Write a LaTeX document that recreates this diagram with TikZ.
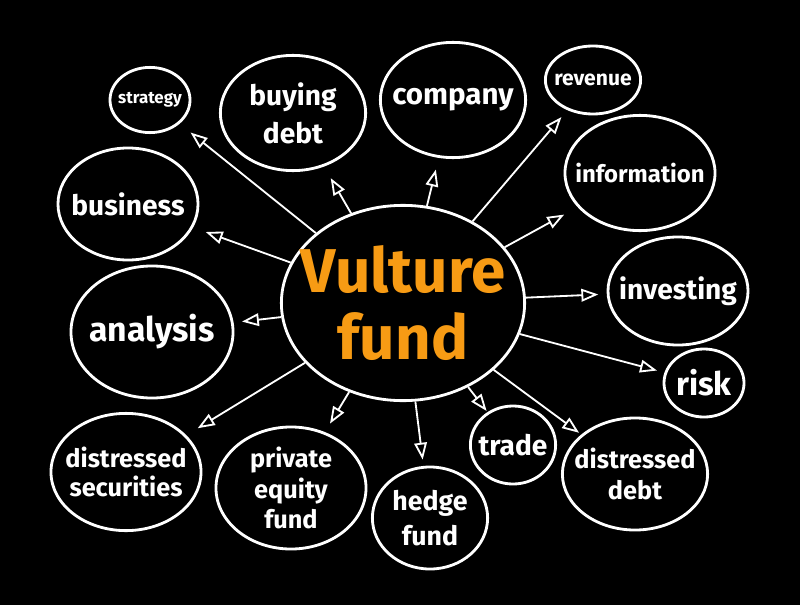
\documentclass[tikz,border=0pt]{standalone}
\usepackage{fontspec}
\setmainfont{Fira Sans}
\usetikzlibrary{shapes.geometric, arrows.meta}
\tikzset{>={Triangle[open, length=12pt, width=9pt]}}
\definecolor{vult}{RGB}{247,155,20}

\begin{document}
\begin{tikzpicture}[x=0.025cm, y=-0.025cm,
    bub/.style={ellipse, draw=white, line width=2pt, inner sep=0pt},
    lbl/.style={text=white, align=center, font=\bfseries},
    arr/.style={->, white, line width=1.3pt, shorten >=#1}]
    \fill[black] (0,0) rectangle (800,605);
    % centre
    \node[bub, minimum width=6.08cm, minimum height=4.88cm] (vf) at (403,303) {};
    \node[text=vult, align=center, font=\fontsize{44}{48}\selectfont\bfseries] (vf-t) at (vf) {Vulture\\fund};
    % bubbles
    \node[bub, minimum width=2.0cm, minimum height=1.63cm] (strat) at (150,100) {};
    \node[lbl, font=\fontsize{12}{14}\selectfont\bfseries] (strat-t) at (strat) {strategy};
    \node[bub, minimum width=3.63cm, minimum height=2.88cm] (buy) at (293,113) {};
    \node[lbl, font=\fontsize{20}{27}\selectfont\bfseries] (buy-t) at (buy) {buying\\debt};
    \node[bub, minimum width=3.63cm, minimum height=2.88cm] (comp) at (453,100) {};
    \node[lbl, font=\fontsize{21}{25}\selectfont\bfseries] (comp-t) at (comp) {company};
    \node[bub, minimum width=2.38cm, minimum height=1.7cm] (rev) at (593,80) {};
    \node[lbl, font=\fontsize{15}{18}\selectfont\bfseries] (rev-t) at (rev) {revenue};
    \node[bub, minimum width=3.5cm, minimum height=2.8cm] (bus) at (128,204) {};
    \node[lbl, font=\fontsize{20}{24}\selectfont\bfseries] (bus-t) at (bus) {business};
    \node[bub, minimum width=3.75cm, minimum height=2.88cm] (info) at (640,173) {};
    \node[lbl, font=\fontsize{17}{20}\selectfont\bfseries] (info-t) at (info) {information};
    \node[bub, minimum width=4.05cm, minimum height=3.3cm] (ana) at (152,332) {};
    \node[lbl, font=\fontsize{24}{28}\selectfont\bfseries] (ana-t) at (ana) {analysis};
    \node[bub, minimum width=3.5cm, minimum height=2.7cm] (inv) at (678,291) {};
    \node[lbl, font=\fontsize{20}{24}\selectfont\bfseries] (inv-t) at (inv) {investing};
    \node[bub, minimum width=2.0cm, minimum height=1.7cm] (risk) at (704,383) {};
    \node[lbl, font=\fontsize{23}{27}\selectfont\bfseries] (risk-t) at (risk) {risk};
    \node[bub, minimum width=3.75cm, minimum height=2.93cm] (dsec) at (126,472) {};
    \node[lbl, font=\fontsize{18}{21}\selectfont\bfseries] (dsec-t) at (dsec) {distressed\\securities};
    \node[bub, minimum width=3.75cm, minimum height=3.05cm] (pef) at (291,488) {};
    \node[lbl, font=\fontsize{18}{22}\selectfont\bfseries] (pef-t) at (pef) {private\\equity\\fund};
    \node[bub, minimum width=2.88cm, minimum height=2.55cm] (hedge) at (430,518) {};
    \node[lbl, font=\fontsize{19}{25}\selectfont\bfseries] (hedge-t) at (hedge) {hedge\\fund};
    \node[bub, minimum width=2.13cm, minimum height=1.95cm] (trade) at (513,445) {};
    \node[lbl, font=\fontsize{20}{24}\selectfont\bfseries] (trade-t) at (trade) {trade};
    \node[bub, minimum width=3.63cm, minimum height=2.8cm] (ddebt) at (635,474) {};
    \node[lbl, font=\fontsize{18}{22}\selectfont\bfseries] (ddebt-t) at (ddebt) {distressed\\debt};
    % arrows
    \draw[arr=10pt] (vf) -- (strat);
    \draw[arr=9.5pt] (vf) -- (buy);
    \draw[arr=8.5pt] (vf) -- (comp);
    \draw[arr=6.5pt] (vf) -- (rev);
    \draw[arr=9.5pt] (vf) -- (bus);
    \draw[arr=11pt] (vf) -- (info);
    \draw[arr=6pt] (vf) -- (ana);
    \draw[arr=6pt] (vf) -- (inv);
    \draw[arr=5.5pt] (vf) -- (risk);
    \draw[arr=9.5pt] (vf) -- (dsec);
    \draw[arr=7pt] (vf) -- (pef);
    \draw[arr=4.5pt] (vf) -- (hedge);
    \draw[arr=1pt] (vf) -- (trade);
    \draw[arr=2pt] (vf) -- (ddebt);
\end{tikzpicture}
\end{document}
